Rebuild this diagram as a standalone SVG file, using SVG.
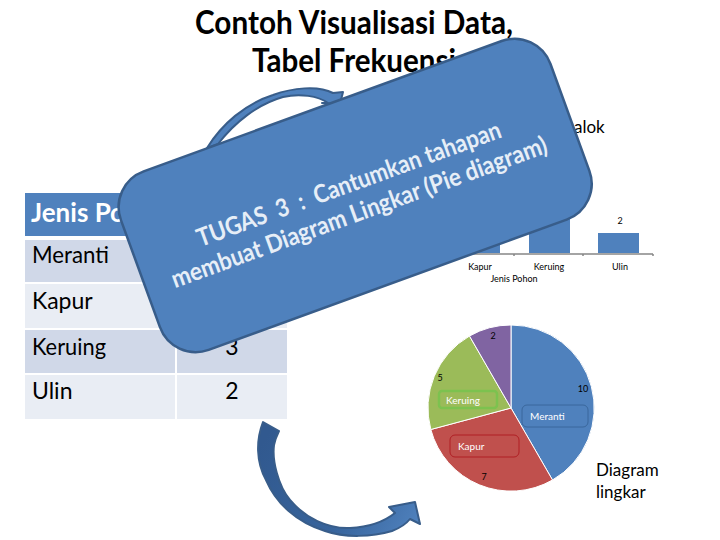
<svg xmlns="http://www.w3.org/2000/svg" width="720" height="540" viewBox="0 0 720 540">
<defs>
<linearGradient id="tail" gradientUnits="userSpaceOnUse" x1="270" y1="430" x2="420" y2="520">
<stop offset="0" stop-color="#31598f"/><stop offset="0.6" stop-color="#37649c"/><stop offset="1" stop-color="#4f81bd"/>
</linearGradient>
</defs>
<style>
text{font-family:Lato,"Open Sans","Liberation Sans",sans-serif}
.title{font-size:32px;font-weight:700;fill:#000;text-anchor:middle}
.cell{font-size:23px;fill:#000}
.small{font-size:9px;fill:#000;text-anchor:middle}
.note{font-size:17px;fill:#000}
.wl{font-size:10px;fill:#fff}
.arrow{fill:#4f81bd;stroke:#385d8a;stroke-width:2;stroke-linejoin:round}
.slice{stroke:#fff;stroke-width:1}
.tugas{font-size:25px;font-weight:700;fill:#e6eef7;text-anchor:middle;white-space:pre}
</style>
<rect width="720" height="540" fill="#fff"/>
<g id="title">
<text class="title" x="354" y="34" textLength="318" lengthAdjust="spacingAndGlyphs">Contoh Visualisasi Data,</text>
<text class="title" x="354" y="72" textLength="204" lengthAdjust="spacingAndGlyphs">Tabel Frekuensi</text>
</g>
<g id="table">
<rect x="25" y="193" width="262" height="43" fill="#4f81bd"/>
<rect x="25" y="240" width="150" height="42" fill="#d0d8e8"/><rect x="177" y="240" width="110" height="42" fill="#d0d8e8"/>
<rect x="25" y="284" width="150" height="44" fill="#e9edf4"/><rect x="177" y="284" width="110" height="44" fill="#e9edf4"/>
<rect x="25" y="330" width="150" height="43" fill="#d0d8e8"/><rect x="177" y="330" width="110" height="43" fill="#d0d8e8"/>
<rect x="25" y="375" width="150" height="44" fill="#e9edf4"/><rect x="177" y="375" width="110" height="44" fill="#e9edf4"/>
<text x="31" y="222" font-size="26" font-weight="700" fill="#fff">Jenis Pohon</text>
<text class="cell" x="32" y="263" textLength="77" lengthAdjust="spacingAndGlyphs">Meranti</text>
<text class="cell" x="32" y="309">Kapur</text>
<text class="cell" x="32" y="355" textLength="74" lengthAdjust="spacingAndGlyphs">Keruing</text>
<text class="cell" x="32" y="399">Ulin</text>
<text class="cell" x="232" y="355" text-anchor="middle">3</text>
<text class="cell" x="232" y="399" text-anchor="middle">2</text>
</g>
<g id="connectors">
<path class="arrow" d="M207 148C222 124 245 104 273 95C292 88 318 85 333 93L343 92L340 104L322 103L328 103C318 96 300 93 283 97C258 104 235 122 218 144Z"/>
<path class="arrow" style="fill:url(#tail)" d="M263 422C256 440 256 462 266 480C276 503 296 522 325 531C345 538 372 537 392 531C400 528 406 524 410 519L420 524L415 502L389 507L395 513C385 521 370 527 350 528C328 529 305 518 290 500C278 486 272 460 274 445C275 440 277 435 279 431Z"/>
</g>
<g id="bar-chart">
<text class="note" x="574" y="133" font-size="16">alok</text>
<rect x="460" y="183" width="40" height="70" fill="#4f81bd"/>
<rect x="529" y="203" width="41" height="50" fill="#4f81bd"/>
<rect x="598" y="233" width="41" height="20" fill="#4f81bd"/>
<path d="M445 254H653M514 254v2M583 254v2M653 254v2" stroke="#868686" stroke-width="1.500" fill="none"/>
<text class="small" x="620" y="224">2</text>
<text class="small" x="480" y="270">Kapur</text>
<text class="small" x="549" y="270">Keruing</text>
<text class="small" x="620" y="270">Ulin</text>
<text class="small" x="514" y="282">Jenis Pohon</text>
</g>
<g id="pie-chart">
<path class="slice" fill="#4f81bd" d="M511 408V325A83 83 0 0 1 552.500 480Z"/>
<path class="slice" fill="#c0504d" d="M511 408L552.500 480A83 83 0 0 1 430.800 429.500Z"/>
<path class="slice" fill="#9bbb59" d="M511 408L430.800 429.500A83 83 0 0 1 469.500 336Z"/>
<path class="slice" fill="#8064a2" d="M511 408L469.500 336A83 83 0 0 1 511 325Z"/>
<text class="small" x="583" y="392">10</text>
<text class="small" x="484" y="480">7</text>
<text class="small" x="440" y="381">5</text>
<text class="small" x="493" y="339">2</text>
<rect x="439" y="391" width="58" height="17" rx="3" fill="#9bbb59" stroke="#7cc24f" stroke-width="2.500"/>
<rect x="522" y="405" width="66" height="22" rx="5" fill="#4f81bd" stroke="#3a679c"/>
<rect x="450" y="435" width="69" height="22" rx="5" fill="#c0504d" stroke="#b01f24"/>
<text class="wl" x="446" y="404">Keruing</text>
<text class="wl" x="530" y="420">Meranti</text>
<text class="wl" x="458" y="450">Kapur</text>
<text class="note" x="596" y="476" font-size="16">Diagram</text>
<text class="note" x="596" y="498" font-size="16">lingkar</text>
</g>
<g id="tugas" transform="rotate(-20 355 195)">
<rect x="126.500" y="100.500" width="457" height="190" rx="38" fill="#4f81bd" stroke="#385d8a" stroke-width="2.500"/>
<text class="tugas" x="353" y="191" textLength="322" lengthAdjust="spacingAndGlyphs">TUGAS  3  :  Cantumkan tahapan</text>
<text class="tugas" x="353" y="221" textLength="398" lengthAdjust="spacingAndGlyphs">membuat Diagram Lingkar (Pie diagram)</text>
</g>
</svg>
